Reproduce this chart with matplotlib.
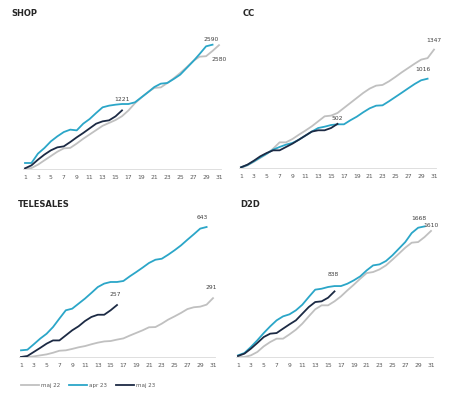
import numpy as np
import matplotlib
matplotlib.use("Agg")
import matplotlib.pyplot as plt

days = list(range(1, 32))
tick_days = list(range(1, 32, 2))

# SHOP
shop_maj22 = [0, 20, 90, 180, 270, 360, 430, 440, 530, 630, 720, 810, 900, 960, 1020, 1100,
              1220, 1370, 1490, 1600, 1690, 1700, 1790, 1890, 2000, 2120, 2250, 2340, 2350, 2460, 2580]
shop_apr23 = [125, 125, 320, 437, 576, 680, 770, 820, 805, 944, 1042, 1167, 1285, 1320, 1340, 1354,
              1354, 1389, 1493, 1597, 1708, 1778, 1792, 1875, 1965, 2104, 2243, 2396, 2556, 2590]
shop_maj23 = [14, 76, 194, 300, 389, 451, 472, 562, 660, 750, 847, 944, 993, 1014, 1097, 1221]

# CC
cc_maj22 = [0, 30, 70, 115, 160, 220, 292, 292, 330, 379, 425, 474, 531, 588, 596, 626,
            683, 740, 797, 854, 903, 937, 945, 986, 1036, 1089, 1138, 1187, 1233, 1250, 1347]
cc_apr23 = [8, 34, 76, 121, 163, 209, 239, 266, 285, 322, 368, 414, 455, 470, 489, 497,
            497, 543, 584, 634, 679, 709, 713, 759, 808, 857, 907, 956, 998, 1016]
cc_maj23 = [8, 38, 83, 133, 171, 201, 201, 239, 277, 322, 368, 414, 429, 429, 455, 502]

# TELESALES
tele_maj22 = [0, 0, 3, 8, 13, 21, 31, 33, 40, 48, 54, 63, 71, 77, 79, 86,
              92, 106, 119, 132, 147, 148, 165, 185, 201, 218, 237, 246, 249, 259, 291]
tele_apr23 = [33, 36, 63, 91, 115, 148, 190, 231, 239, 264, 289, 317, 346, 363, 371, 371,
              376, 399, 420, 442, 465, 481, 486, 506, 528, 552, 580, 607, 635, 643]
tele_maj23 = [0, 5, 25, 45, 66, 82, 82, 107, 132, 152, 178, 198, 209, 209, 231, 257]

# D2D
d2d_maj22 = [0, 0, 21, 64, 136, 191, 234, 234, 289, 349, 426, 519, 609, 660, 660, 711,
             774, 851, 923, 1000, 1072, 1085, 1119, 1170, 1243, 1319, 1396, 1460, 1468, 1532, 1610]
d2d_apr23 = [21, 51, 128, 213, 306, 391, 468, 519, 545, 596, 668, 766, 860, 872, 894, 906,
             906, 936, 979, 1030, 1106, 1170, 1183, 1226, 1298, 1383, 1468, 1583, 1651, 1668]
d2d_maj23 = [13, 43, 106, 179, 255, 298, 306, 362, 417, 468, 553, 638, 702, 711, 757, 838]

series_names = ["maj 22", "apr 23", "maj 23"]
colors = ["#c0c0c0", "#2ba6c8", "#1c2a44"]

W, H = 474, 396
fig = plt.figure(figsize=(W / 100, H / 100), dpi=100)


def make_ax(day1_px, day31_px, base_px, top_px):
    per_day = (day31_px - day1_px) / 30
    left = day1_px - 0.25 * per_day
    width = (day31_px - day1_px) + 0.5 * per_day
    ax = fig.add_axes([left / W, 1 - base_px / H, width / W, (base_px - top_px) / H])
    return ax


def draw_panel(ax, title, data, ymax, labels, title_xy):
    for vals, c, name in zip(data, colors, series_names):
        ax.plot(days[:len(vals)], vals, color=c, lw=1.3, label=name, solid_joinstyle="round")
    ax.set_xlim(0.75, 31.25)
    ax.set_ylim(0, ymax)
    ax.set_yticks([])
    ax.set_xticks(tick_days)
    ax.tick_params(axis="x", length=0, labelsize=4.3, labelcolor="#595959", pad=4)
    for s in ["top", "right", "left"]:
        ax.spines[s].set_visible(False)
    ax.spines["bottom"].set_color("#d9d9d9")
    ax.spines["bottom"].set_linewidth(0.6)
    ax.set_facecolor("none")
    for (x, y, txt, dx, dy) in labels:
        ax.annotate(txt, (x, y), xytext=(dx, dy), textcoords="offset points",
                    ha="center", va="bottom", fontsize=4.3, color="#404040")
    fig.text(title_xy[0] / W, 1 - title_xy[1] / H, title, fontsize=6, fontweight="bold",
             color="#262626", va="center", ha="left")


ax1 = make_ax(25, 219, 169, 30)
draw_panel(ax1, "SHOP", [shop_maj22, shop_apr23, shop_maj23], 139 / 0.048,
           [(30, shop_apr23[-1], str(shop_apr23[-1]), -1, 2),
            (31, shop_maj22[-1], str(shop_maj22[-1]), 0, -12),
            (16, shop_maj23[-1], str(shop_maj23[-1]), 0, 6)], (11, 13))

ax2 = make_ax(241, 434, 168, 30)
draw_panel(ax2, "CC", [cc_maj22, cc_apr23, cc_maj23], 138 / 0.0879,
           [(31, cc_maj22[-1], str(cc_maj22[-1]), 0, 5),
            (30, cc_apr23[-1], str(cc_apr23[-1]), -3, 5),
            (16, cc_maj23[-1], str(cc_maj23[-1]), 0, 2)], (243, 13))

ax3 = make_ax(21, 213, 357, 220)
draw_panel(ax3, "TELESALES", [tele_maj22, tele_apr23, tele_maj23], 137 / 0.2022,
           [(30, tele_apr23[-1], str(tele_apr23[-1]), -3, 5),
            (31, tele_maj22[-1], str(tele_maj22[-1]), -1, 6),
            (16, tele_maj23[-1], str(tele_maj23[-1]), -1, 6)], (18, 205))

ax4 = make_ax(238, 431, 357, 220)
draw_panel(ax4, "D2D", [d2d_maj22, d2d_apr23, d2d_maj23], 137 / 0.0783,
           [(30, d2d_apr23[-1], str(d2d_apr23[-1]), -4, 4),
            (31, d2d_maj22[-1], str(d2d_maj22[-1]), 0, 2)], (240, 205))
ax4.annotate(str(d2d_maj23[-1]), (16, d2d_maj23[-1]), xytext=(-1, 10), textcoords="offset points",
             ha="center", va="bottom", fontsize=4.3, color="#404040")

handles, lbls = ax3.get_legend_handles_labels()
fig.legend(handles, lbls, loc="center left", bbox_to_anchor=(16 / W, 1 - 385 / H),
           ncol=3, frameon=False, fontsize=4, handlelength=3.2, handletextpad=0.4,
           columnspacing=1.6, labelcolor="#595959")

fig.savefig("out.png", dpi=100, facecolor="white")
